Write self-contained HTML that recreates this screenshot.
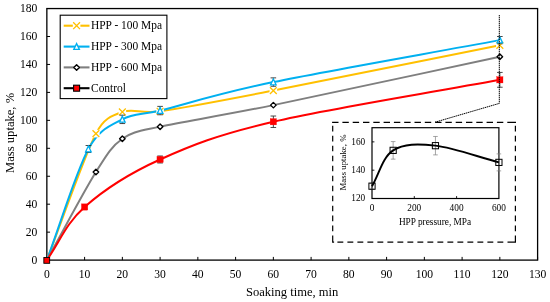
<!DOCTYPE html><html><head><meta charset="utf-8"><title>Mass uptake vs soaking time</title>
<style>html,body{margin:0;padding:0;background:#fff}svg{display:block}text{font-family:"Liberation Serif","Times New Roman",serif;fill:#000}</style></head><body>
<svg width="550" height="302" viewBox="0 0 550 302">
<rect width="550" height="302" fill="#fff"/>
<rect x="46.85" y="8.55" width="490.75" height="251.55" fill="none" stroke="#000" stroke-width="1.3"/>
<path d="M46.85,260.10h3.2M46.85,232.15h3.2M46.85,204.20h3.2M46.85,176.25h3.2M46.85,148.30h3.2M46.85,120.35h3.2M46.85,92.40h3.2M46.85,64.45h3.2M46.85,36.50h3.2M46.85,8.55h3.2M46.85,260.10v-3.2M84.60,260.10v-3.2M122.35,260.10v-3.2M160.10,260.10v-3.2M197.85,260.10v-3.2M235.60,260.10v-3.2M273.35,260.10v-3.2M311.10,260.10v-3.2M348.85,260.10v-3.2M386.60,260.10v-3.2M424.35,260.10v-3.2M462.10,260.10v-3.2M499.85,260.10v-3.2M537.60,260.10v-3.2" stroke="#000" stroke-width="1" fill="none"/>
<g font-size="11.6" text-anchor="end">
<text x="37.4" y="263.60">0</text>
<text x="37.4" y="235.65">20</text>
<text x="37.4" y="207.70">40</text>
<text x="37.4" y="179.75">60</text>
<text x="37.4" y="151.80">80</text>
<text x="37.4" y="123.85">100</text>
<text x="37.4" y="95.90">120</text>
<text x="37.4" y="67.95">140</text>
<text x="37.4" y="40.00">160</text>
<text x="37.4" y="12.05">180</text>
</g>
<g font-size="11.6" text-anchor="middle">
<text x="46.85" y="277.8">0</text>
<text x="84.60" y="277.8">10</text>
<text x="122.35" y="277.8">20</text>
<text x="160.10" y="277.8">30</text>
<text x="197.85" y="277.8">40</text>
<text x="235.60" y="277.8">50</text>
<text x="273.35" y="277.8">60</text>
<text x="311.10" y="277.8">70</text>
<text x="348.85" y="277.8">80</text>
<text x="386.60" y="277.8">90</text>
<text x="424.35" y="277.8">100</text>
<text x="462.10" y="277.8">110</text>
<text x="499.85" y="277.8">120</text>
<text x="537.60" y="277.8">130</text>
</g>
<text x="292.2" y="295.6" font-size="12.55" text-anchor="middle">Soaking time, min</text>
<text transform="translate(13.8,132.9) rotate(-90)" font-size="12.6" text-anchor="middle">Mass uptake, %</text>
<path d="M46.85,260.10 C63.21,217.94 83.34,158.32 95.92,133.63 C103.68,118.40 111.65,115.69 122.35,111.97 C133.05,108.24 141.41,113.91 160.10,111.27 C185.27,107.70 216.84,101.55 273.35,90.58 C329.98,79.59 424.35,60.40 499.85,45.30" stroke="#FFC000" stroke-width="2" fill="none" stroke-linecap="round" stroke-linejoin="round"/>
<path d="M46.85,260.10 C60.69,223.07 75.79,172.45 88.38,149.00 C99.03,129.14 110.40,125.78 122.35,119.37 C134.30,112.97 141.28,115.22 160.10,110.57 C185.27,104.35 216.73,93.80 273.35,82.06 C329.98,70.32 424.35,54.11 499.85,40.13" stroke="#00B0F0" stroke-width="2" fill="none" stroke-linecap="round" stroke-linejoin="round"/>
<path d="M46.85,260.10 C63.21,230.75 83.34,192.27 95.92,172.06 C107.15,154.03 111.65,146.37 122.35,138.80 C133.05,131.23 140.75,130.96 160.10,126.64 C185.27,121.03 216.89,116.73 273.35,105.12 C329.98,93.47 424.35,72.88 499.85,56.76" stroke="#7F7F7F" stroke-width="2" fill="none" stroke-linecap="round" stroke-linejoin="round"/>
<path d="M46.85,260.10 C59.43,242.40 65.72,223.77 84.60,207.00 C103.47,190.23 128.64,173.69 160.10,159.48 C191.56,145.27 216.73,135.02 273.35,121.75 C329.98,108.47 424.35,93.80 499.85,79.82" stroke="#FF0000" stroke-width="2" fill="none" stroke-linecap="round" stroke-linejoin="round"/>
<rect x="92.12" y="129.83" width="7.60" height="7.60" fill="#fff"/><path d="M92.52,130.23L99.33,137.03M92.52,137.03L99.33,130.23" stroke="#FFC000" stroke-width="1.3" fill="none"/>
<rect x="118.55" y="108.17" width="7.60" height="7.60" fill="#fff"/><path d="M118.95,108.57L125.75,115.37M118.95,115.37L125.75,108.57" stroke="#FFC000" stroke-width="1.3" fill="none"/>
<rect x="156.30" y="107.47" width="7.60" height="7.60" fill="#fff"/><path d="M156.70,107.87L163.50,114.67M156.70,114.67L163.50,107.87" stroke="#FFC000" stroke-width="1.3" fill="none"/>
<rect x="269.55" y="86.78" width="7.60" height="7.60" fill="#fff"/><path d="M269.95,87.18L276.75,93.98M269.95,93.98L276.75,87.18" stroke="#FFC000" stroke-width="1.3" fill="none"/>
<rect x="496.05" y="41.50" width="7.60" height="7.60" fill="#fff"/><path d="M496.45,41.90L503.25,48.70M496.45,48.70L503.25,41.90" stroke="#FFC000" stroke-width="1.3" fill="none"/>
<path d="M88.38,145.51V152.49M85.58,145.51H91.17M85.58,152.49H91.17" stroke="#333" stroke-width="0.9" fill="none"/>
<path d="M122.35,115.18V123.56M119.55,115.18H125.15M119.55,123.56H125.15" stroke="#333" stroke-width="0.9" fill="none"/>
<path d="M160.10,106.38V114.76M157.30,106.38H162.90M157.30,114.76H162.90" stroke="#333" stroke-width="0.9" fill="none"/>
<path d="M273.35,77.87V86.25M270.55,77.87H276.15M270.55,86.25H276.15" stroke="#333" stroke-width="0.9" fill="none"/>
<path d="M499.85,36.50V43.77M497.05,36.50H502.65M497.05,43.77H502.65" stroke="#333" stroke-width="0.9" fill="none"/>
<path d="M88.38,146.00L91.17,151.80L85.58,151.80Z" stroke="#00B0F0" stroke-width="1.3" fill="#fff"/>
<path d="M122.35,116.37L125.15,122.17L119.55,122.17Z" stroke="#00B0F0" stroke-width="1.3" fill="#fff"/>
<path d="M160.10,107.57L162.90,113.37L157.30,113.37Z" stroke="#00B0F0" stroke-width="1.3" fill="#fff"/>
<path d="M273.35,79.06L276.15,84.86L270.55,84.86Z" stroke="#00B0F0" stroke-width="1.3" fill="#fff"/>
<path d="M499.85,37.13L502.65,42.93L497.05,42.93Z" stroke="#00B0F0" stroke-width="1.3" fill="#fff"/>
<path d="M95.92,169.31L98.67,172.06L95.92,174.81L93.17,172.06Z" stroke="#000" stroke-width="1.4" stroke-linejoin="round" fill="#fff"/>
<path d="M122.35,136.05L125.10,138.80L122.35,141.55L119.60,138.80Z" stroke="#000" stroke-width="1.4" stroke-linejoin="round" fill="#fff"/>
<path d="M160.10,123.89L162.85,126.64L160.10,129.39L157.35,126.64Z" stroke="#000" stroke-width="1.4" stroke-linejoin="round" fill="#fff"/>
<path d="M273.35,102.37L276.10,105.12L273.35,107.87L270.60,105.12Z" stroke="#000" stroke-width="1.4" stroke-linejoin="round" fill="#fff"/>
<path d="M499.85,54.01L502.60,56.76L499.85,59.51L497.10,56.76Z" stroke="#000" stroke-width="1.4" stroke-linejoin="round" fill="#fff"/>
<path d="M84.60,204.90V209.09M81.80,204.90H87.40M81.80,209.09H87.40" stroke="#333" stroke-width="0.9" fill="none"/>
<path d="M160.10,155.99V162.97M157.30,155.99H162.90M157.30,162.97H162.90" stroke="#333" stroke-width="0.9" fill="none"/>
<path d="M273.35,116.02V127.48M270.55,116.02H276.15M270.55,127.48H276.15" stroke="#333" stroke-width="0.9" fill="none"/>
<path d="M499.85,72.42V87.23M497.05,72.42H502.65M497.05,87.23H502.65" stroke="#333" stroke-width="0.9" fill="none"/>
<rect x="43.85" y="257.50" width="5.80" height="5.80" fill="#FF0000" stroke="#000" stroke-width="0.9"/>
<rect x="81.45" y="203.85" width="6.30" height="6.30" fill="#FF0000" stroke="#FF0000" stroke-width="0.3"/>
<rect x="156.95" y="156.33" width="6.30" height="6.30" fill="#FF0000" stroke="#FF0000" stroke-width="0.3"/>
<rect x="270.20" y="118.60" width="6.30" height="6.30" fill="#FF0000" stroke="#FF0000" stroke-width="0.3"/>
<rect x="496.70" y="76.67" width="6.30" height="6.30" fill="#FF0000" stroke="#FF0000" stroke-width="0.3"/>
<path d="M499.3,15V103.4L435,122.2" stroke="#000" stroke-width="1" stroke-dasharray="1.4,0.6" fill="none"/>
<rect x="60.2" y="15.2" width="106.7" height="83.4" fill="#fff" stroke="#000" stroke-width="1.1"/>
<path d="M63.7,25.7H89.5" stroke="#FFC000" stroke-width="2.1"/>
<rect x="72.80" y="21.90" width="7.60" height="7.60" fill="#fff"/><path d="M73.20,22.30L80.00,29.10M73.20,29.10L80.00,22.30" stroke="#FFC000" stroke-width="1.3" fill="none"/>
<text x="91.0" y="29.10" font-size="11.45">HPP - 100 Mpa</text>
<path d="M63.7,46.6H89.5" stroke="#00B0F0" stroke-width="2.1"/>
<path d="M76.60,43.60L79.40,49.40L73.80,49.40Z" stroke="#00B0F0" stroke-width="1.3" fill="#fff"/>
<text x="91.0" y="50.00" font-size="11.45">HPP - 300 Mpa</text>
<path d="M63.7,67.4H89.5" stroke="#7F7F7F" stroke-width="2.1"/>
<path d="M76.60,64.65L79.35,67.40L76.60,70.15L73.85,67.40Z" stroke="#000" stroke-width="1.4" stroke-linejoin="round" fill="#fff"/>
<text x="91.0" y="70.80" font-size="11.45">HPP - 600 Mpa</text>
<path d="M63.7,88.2H89.5" stroke="#000" stroke-width="2.1"/>
<rect x="73.60" y="85.20" width="6.00" height="6.00" fill="#FF0000" stroke="#000" stroke-width="1.1"/>
<text x="91.0" y="91.60" font-size="11.45">Control</text>
<rect x="332.7" y="122.4" width="182.70" height="119.80" fill="#fff"/>
<path d="M332.10,122.4h6.4M342.40,122.4h6.4M352.70,122.4h6.4M363.00,122.4h6.4M373.30,122.4h6.4M383.60,122.4h6.4M393.90,122.4h6.4M404.20,122.4h6.4M414.50,122.4h6.4M424.80,122.4h6.4M435.10,122.4h6.4M445.40,122.4h6.4M455.70,122.4h6.4M466.00,122.4h6.4M476.30,122.4h6.4M486.60,122.4h6.4M496.90,122.4h6.4M507.3,122.4H516.0M332.7,125.80v5.6M515.4,125.80v5.6M332.7,135.78v5.6M515.4,135.78v5.6M332.7,145.76v5.6M515.4,145.76v5.6M332.7,155.74v5.6M515.4,155.74v5.6M332.7,165.72v5.6M515.4,165.72v5.6M332.7,175.70v5.6M515.4,175.70v5.6M332.7,185.68v5.6M515.4,185.68v5.6M332.7,195.66v5.6M515.4,195.66v5.6M332.7,205.64v5.6M515.4,205.64v5.6M332.7,215.62v5.6M515.4,215.62v5.6M332.7,225.60v5.6M515.4,225.60v5.6M332.7,235.58V242.79999999999998M515.4,235.58V242.79999999999998M332.09999999999997,242.2h2M337.40,242.2h5.9M347.40,242.2h5.9M357.40,242.2h5.9M367.40,242.2h5.9M377.40,242.2h5.9M387.40,242.2h5.9M397.40,242.2h5.9M407.40,242.2h5.9M417.40,242.2h5.9M427.40,242.2h5.9M437.40,242.2h5.9M447.40,242.2h5.9M457.40,242.2h5.9M467.40,242.2h5.9M477.40,242.2h5.9M487.40,242.2h5.9M497.40,242.2h5.9M507.5,242.2H516.0" stroke="#000" stroke-width="1.2" fill="none"/>
<rect x="372.0" y="127.7" width="126.90" height="70.80" fill="none" stroke="#000" stroke-width="1.2"/>
<g font-size="9.3" text-anchor="end">
<text x="365.2" y="201.40">120</text>
<text x="365.2" y="173.08">140</text>
<text x="365.2" y="144.76">160</text>
</g>
<g font-size="9.3" text-anchor="middle">
<text x="372.00" y="211.4">0</text>
<text x="414.30" y="211.4">200</text>
<text x="456.60" y="211.4">400</text>
<text x="498.90" y="211.4">600</text>
</g>
<text x="435" y="225.3" font-size="9.3" text-anchor="middle">HPP pressure, MPa</text>
<text transform="translate(345.6,162.5) rotate(-90)" font-size="8.8" text-anchor="middle">Mass uptake, %</text>
<path d="M372.00,183.35V189.01M369.70,183.35H374.30M369.70,189.01H374.30" stroke="#808080" stroke-width="0.7" fill="none"/>
<path d="M393.15,141.58V159.14M390.85,141.58H395.45M390.85,159.14H395.45" stroke="#808080" stroke-width="0.7" fill="none"/>
<path d="M435.45,136.48V154.89M433.15,136.48H437.75M433.15,154.89H437.75" stroke="#808080" stroke-width="0.7" fill="none"/>
<path d="M498.90,153.90V170.89M496.60,153.90H501.20M496.60,170.89H501.20" stroke="#808080" stroke-width="0.7" fill="none"/>
<path d="M372.00,186.18 C379.05,174.24 382.57,157.11 393.15,150.36 C403.72,143.61 417.82,143.68 435.45,145.68 C453.07,147.69 477.75,156.82 498.90,162.39" stroke="#000" stroke-width="1.9" fill="none"/>
<rect x="368.90" y="183.08" width="6.2" height="6.2" fill="none" stroke="#000" stroke-width="1"/>
<rect x="390.05" y="147.26" width="6.2" height="6.2" fill="none" stroke="#000" stroke-width="1"/>
<rect x="432.35" y="142.58" width="6.2" height="6.2" fill="none" stroke="#000" stroke-width="1"/>
<rect x="495.80" y="159.29" width="6.2" height="6.2" fill="none" stroke="#000" stroke-width="1"/>
<path d="M414.30,198.5v-2.4M456.60,198.5v-2.4M372.0,170.18h2.4M372.0,141.86h2.4" stroke="#000" stroke-width="0.9" fill="none"/>
</svg></body></html>
